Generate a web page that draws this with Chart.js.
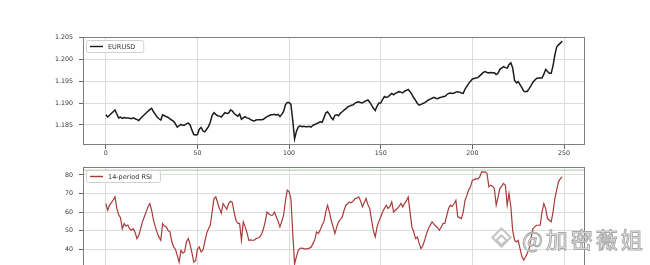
<!DOCTYPE html>
<html lang="en">
<head>
    <meta charset="UTF-8">
    <title>EURUSD and RSI</title>
    <script src="https://cdn.jsdelivr.net/npm/chart.js"></script>
    <style>
        * {
            margin: 0;
            padding: 0;
            box-sizing: border-box;
        }

        body {
            width: 650px;
            height: 265px;
            overflow: hidden;
            background: #ffffff;
            position: relative;
            font-family: "DejaVu Sans", sans-serif;
        }

        #priceChart {
            position: absolute;
            left: 0;
            top: 0;
        }

        #rsiChart {
            position: absolute;
            left: 0;
            top: 155px;
        }

        .watermark {
            position: absolute;
            left: 522px;
            top: 222px;
            font-family: "Noto Sans CJK SC", sans-serif;
            font-size: 22px;
            color: rgba(255, 255, 255, 0.85);
            -webkit-text-stroke: 1px #a9a9a9;
            letter-spacing: 3px;
            white-space: nowrap;
        }

        .logo {
            position: absolute;
            left: 494px;
            top: 230px;
            width: 15px;
            height: 15px;
            border: 2px solid #c4c4c4;
            transform: rotate(45deg);
        }

        .logo::after {
            content: "";
            position: absolute;
            left: 3px;
            top: 3px;
            width: 5px;
            height: 5px;
            border: 2px solid #c4c4c4;
        }
    </style>
</head>
<body>
    <canvas id="priceChart" width="650" height="160"></canvas>
    <canvas id="rsiChart" width="650" height="145"></canvas>
    <div class="logo"></div>
    <div class="watermark">@加密薇姐</div>

    <script>
        // EURUSD closes
        const eurusd = [
            1.1873, 1.1868, 1.1872, 1.1876, 1.1880, 1.1884, 1.1875, 1.1866, 1.1868, 1.1865,
            1.1867, 1.1866, 1.1866, 1.1865, 1.1864, 1.1866, 1.1864, 1.1862, 1.1860, 1.1865,
            1.1869, 1.1873, 1.1877, 1.1881, 1.1885, 1.1888, 1.1880, 1.1874, 1.1868, 1.1864,
            1.1861, 1.1873, 1.1871, 1.1869, 1.1867, 1.1864, 1.1861, 1.1858, 1.1852, 1.1845,
            1.1848, 1.1851, 1.1849, 1.1849, 1.1853, 1.1854, 1.1850, 1.1838, 1.1828, 1.1827,
            1.1828, 1.1840, 1.1844, 1.1836, 1.1834, 1.1840, 1.1846, 1.1856, 1.1872, 1.1878,
            1.1874, 1.1871, 1.1870, 1.1868, 1.1873, 1.1878, 1.1876, 1.1877, 1.1884, 1.1882,
            1.1876, 1.1873, 1.1870, 1.1875, 1.1863, 1.1866, 1.1869, 1.1866, 1.1865, 1.1862,
            1.1860, 1.1859, 1.1861, 1.1862, 1.1862, 1.1862, 1.1863, 1.1866, 1.1869, 1.1871,
            1.1873, 1.1873, 1.1874, 1.1872, 1.1874, 1.1869, 1.1874, 1.1881, 1.1896, 1.1901,
            1.1901, 1.1897, 1.1860, 1.1818, 1.1835, 1.1845, 1.1848, 1.1846, 1.1847, 1.1846,
            1.1846, 1.1847, 1.1845, 1.1849, 1.1851, 1.1853, 1.1855, 1.1857, 1.1856, 1.1866,
            1.1877, 1.1880, 1.1874, 1.1866, 1.1862, 1.1872, 1.1873, 1.1871, 1.1877, 1.1880,
            1.1884, 1.1887, 1.1891, 1.1893, 1.1895, 1.1896, 1.1900, 1.1902, 1.1903, 1.1901,
            1.1900, 1.1903, 1.1905, 1.1907, 1.1902, 1.1895, 1.1888, 1.1883, 1.1893, 1.1900,
            1.1900, 1.1908, 1.1915, 1.1913, 1.1914, 1.1918, 1.1922, 1.1919, 1.1922, 1.1924,
            1.1926, 1.1925, 1.1923, 1.1927, 1.1929, 1.1931, 1.1926, 1.1920, 1.1912, 1.1906,
            1.1899, 1.1895, 1.1897, 1.1899, 1.1901, 1.1904, 1.1907, 1.1909, 1.1911, 1.1913,
            1.1911, 1.1910, 1.1912, 1.1913, 1.1915, 1.1915, 1.1919, 1.1922, 1.1923, 1.1922,
            1.1923, 1.1925, 1.1926, 1.1925, 1.1923, 1.1922, 1.1932, 1.1938, 1.1945, 1.1950,
            1.1955, 1.1956, 1.1957, 1.1958, 1.1962, 1.1966, 1.1970, 1.1972, 1.1970, 1.1969,
            1.1970, 1.1969, 1.1969, 1.1965, 1.1968, 1.1977, 1.1980, 1.1983, 1.1981, 1.1980,
            1.1988, 1.1992, 1.1980, 1.1952, 1.1946, 1.1949, 1.1942, 1.1935, 1.1927, 1.1926,
            1.1927, 1.1933, 1.1940, 1.1947, 1.1952, 1.1956, 1.1957, 1.1957, 1.1957, 1.1966,
            1.1977, 1.1972, 1.1968, 1.1968, 1.1985, 1.2010, 1.2028, 1.2033, 1.2037, 1.2042
        ];

        // 14-period RSI, bottom panel
        const rsi = [
            64.6, 61.0, 63.7, 65.0, 66.5, 68.2, 62.0, 58.5, 57.0, 51.0,
            53.8, 52.5, 53.0, 51.0, 50.2, 51.0, 49.0, 45.7, 47.5, 51.0,
            54.7, 57.5, 60.0, 62.8, 64.6, 61.0, 55.6, 52.0, 49.0, 46.5,
            44.8, 53.8, 52.5, 52.0, 50.0, 49.3, 44.0, 41.2, 40.0, 36.5,
            33.0, 39.4, 38.0, 38.5, 44.0, 45.7, 42.4, 38.0, 33.0, 33.9,
            40.0, 41.2, 38.5, 39.4, 44.0, 48.4, 51.0, 52.9, 60.0, 67.3,
            68.2, 65.0, 61.9, 59.4, 64.6, 63.0, 61.5, 64.6, 65.8, 65.2,
            60.0, 55.6, 54.0, 53.8, 44.8, 54.7, 52.0, 49.0, 44.8, 45.0,
            44.8, 44.8, 45.7, 46.0, 46.6, 48.0, 51.0, 55.0, 60.0, 59.0,
            58.3, 58.3, 60.0, 57.5, 55.0, 52.0, 55.0, 58.3, 66.0, 71.8,
            70.9, 67.3, 48.4, 32.0, 36.0, 39.4, 40.5, 40.6, 40.3, 40.0,
            40.3, 40.6, 41.0, 43.0, 45.0, 49.3, 48.4, 50.4, 53.0, 54.7,
            60.0, 63.7, 60.0, 55.6, 52.0, 48.4, 52.0, 54.7, 56.0, 57.4,
            61.0, 63.7, 64.6, 65.5, 65.0, 66.0, 67.3, 67.5, 68.2, 66.0,
            62.8, 65.0, 67.3, 64.0, 61.9, 55.6, 50.0, 46.6, 52.0, 55.0,
            57.4, 60.0, 61.9, 63.7, 61.9, 63.0, 65.5, 60.0, 61.0, 61.9,
            63.0, 64.6, 62.8, 64.6, 66.0, 68.2, 60.0, 52.0, 49.3, 45.7,
            46.5, 43.0, 40.3, 42.0, 45.0, 48.4, 51.0, 52.9, 54.7, 53.5,
            52.5, 51.5, 50.2, 52.0, 53.8, 54.0, 58.0, 61.9, 63.7, 63.0,
            64.5, 66.4, 57.4, 57.0, 56.5, 60.0, 66.4, 69.0, 72.0, 73.6,
            77.2, 77.5, 78.0, 77.8, 79.0, 81.7, 81.5, 81.7, 80.8, 73.6,
            74.5, 74.0, 72.7, 63.7, 68.0, 72.7, 74.0, 75.4, 74.5, 63.7,
            70.0, 62.8, 50.0, 45.0, 43.9, 44.8, 40.3, 36.0, 34.1, 35.8,
            38.0, 40.3, 46.0, 51.0, 52.0, 52.9, 52.9, 52.9, 60.0, 64.6,
            61.9, 56.5, 55.6, 54.7, 60.0, 67.3, 72.0, 76.3, 78.0, 79.0
        ];

        const days = eurusd.map((_, i) => i);
        const dayTicks = [0, 50, 100, 150, 200, 250];
        const priceTicks = [1.185, 1.190, 1.195, 1.200, 1.205];
        const rsiTicks = [40, 50, 60, 70, 80];
        const rsiUpper = 82.6;

        const tickFont = { family: "DejaVu Sans", size: 6.3 };

        // axes box like matplotlib, plus legend in the upper left
        const framePlugin = {
            id: "frame",
            afterDraw(chart, args, opts) {
                const ctx = chart.ctx;
                const a = chart.chartArea;
                ctx.save();
                if (opts.band != null) {
                    const y = chart.scales.y.getPixelForValue(opts.band);
                    ctx.strokeStyle = "#a9c9a4";
                    ctx.lineWidth = 1;
                    ctx.beginPath();
                    ctx.moveTo(a.left, y);
                    ctx.lineTo(a.right, y);
                    ctx.stroke();
                }
                ctx.strokeStyle = "#7d7d7d";
                ctx.lineWidth = 1;
                ctx.strokeRect(a.left + 0.5, a.top + 0.5, a.right - a.left - 1, a.bottom - a.top - 1);

                const ds = chart.data.datasets[0];
                ctx.font = "6.5px 'DejaVu Sans'";
                const w = ctx.measureText(ds.label).width + 30;
                const x0 = a.left + 3, y0 = a.top + 3;
                ctx.fillStyle = "rgba(255,255,255,0.85)";
                ctx.strokeStyle = "#d0d0d0";
                ctx.beginPath();
                ctx.roundRect(x0 + 0.5, y0 + 0.5, w, 12, 2);
                ctx.fill();
                ctx.stroke();
                ctx.strokeStyle = ds.borderColor;
                ctx.lineWidth = 1.4;
                ctx.beginPath();
                ctx.moveTo(x0 + 4, y0 + 6.5);
                ctx.lineTo(x0 + 17, y0 + 6.5);
                ctx.stroke();
                ctx.fillStyle = "#333";
                ctx.textBaseline = "middle";
                ctx.fillText(ds.label, x0 + 22, y0 + 7);
                ctx.restore();
            }
        };

        function axes(yMin, yMax, yTicks, yFmt, xHeight) {
            return {
                x: {
                    type: "linear",
                    min: -12.45,
                    max: 261.45,
                    afterBuildTicks: s => { s.ticks = dayTicks.map(v => ({ value: v })); },
                    afterFit: s => { s.height = xHeight; },
                    grid: { color: "#dcdcdc", tickColor: "#666", tickLength: 4 },
                    border: { display: false },
                    ticks: { font: tickFont, color: "#333", padding: 1, maxRotation: 0 }
                },
                y: {
                    min: yMin,
                    max: yMax,
                    afterBuildTicks: s => { s.ticks = yTicks.map(v => ({ value: v })); },
                    afterFit: s => { s.width = 83; },
                    grid: { color: "#dcdcdc", tickColor: "#666", tickLength: 4 },
                    border: { display: false },
                    ticks: { font: tickFont, color: "#333", padding: 6, callback: yFmt }
                }
            };
        }

        new Chart(document.getElementById("priceChart"), {
            type: "line",
            data: {
                labels: days,
                datasets: [{
                    label: "EURUSD",
                    data: eurusd,
                    borderColor: "#1c1c1c",
                    borderWidth: 1.5,
                    pointRadius: 0,
                    tension: 0
                }]
            },
            options: {
                responsive: false,
                animation: false,
                layout: { padding: { top: 37, right: 65, left: 0, bottom: 0 } },
                plugins: { legend: { display: false }, tooltip: { enabled: false }, frame: {} },
                scales: axes(1.1804, 1.2051, priceTicks, v => v.toFixed(3), 15)
            },
            plugins: [framePlugin]
        });

        new Chart(document.getElementById("rsiChart"), {
            type: "line",
            data: {
                labels: days,
                datasets: [{
                    label: "14-period RSI",
                    data: rsi,
                    borderColor: "#a83a3a",
                    borderWidth: 1.2,
                    pointRadius: 0,
                    tension: 0
                }]
            },
            options: {
                responsive: false,
                animation: false,
                layout: { padding: { top: 12, right: 65, left: 0, bottom: 0 } },
                plugins: { legend: { display: false }, tooltip: { enabled: false }, frame: { band: rsiUpper } },
                scales: axes(25, 84.3, rsiTicks, v => v, 23)
            },
            plugins: [framePlugin]
        });
    </script>
</body>
</html>
